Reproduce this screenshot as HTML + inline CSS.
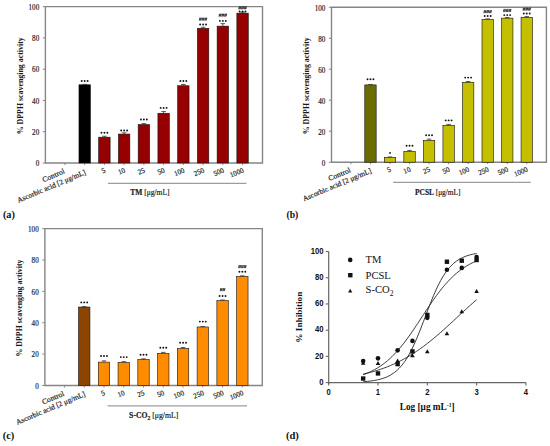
<!DOCTYPE html>
<html><head><meta charset="utf-8"><style>
html,body{margin:0;padding:0;background:#fff;}
svg{display:block;}
.t{stroke:#222;stroke-width:0.18px;paint-order:stroke;}
</style></head><body>
<svg width="550" height="446" viewBox="0 0 550 446">
<rect width="550" height="446" fill="#fff"/>
<path d="M45.4,6.6 H262.5 V163.0 H45.4 Z" fill="none" stroke="#858585" stroke-width="1.4"/>
<line x1="42.8" y1="163.00" x2="45.4" y2="163.00" stroke="#858585" stroke-width="1"/>
<text x="39.199999999999996" y="166.30" text-anchor="end" font-family='"Liberation Serif", serif' font-size="7.6" fill="#222" class="t" textLength="3.55" lengthAdjust="spacingAndGlyphs">0</text>
<line x1="42.8" y1="131.72" x2="45.4" y2="131.72" stroke="#858585" stroke-width="1"/>
<text x="39.199999999999996" y="135.02" text-anchor="end" font-family='"Liberation Serif", serif' font-size="7.6" fill="#222" class="t" textLength="7.10" lengthAdjust="spacingAndGlyphs">20</text>
<line x1="42.8" y1="100.44" x2="45.4" y2="100.44" stroke="#858585" stroke-width="1"/>
<text x="39.199999999999996" y="103.74" text-anchor="end" font-family='"Liberation Serif", serif' font-size="7.6" fill="#222" class="t" textLength="7.10" lengthAdjust="spacingAndGlyphs">40</text>
<line x1="42.8" y1="69.16" x2="45.4" y2="69.16" stroke="#858585" stroke-width="1"/>
<text x="39.199999999999996" y="72.46" text-anchor="end" font-family='"Liberation Serif", serif' font-size="7.6" fill="#222" class="t" textLength="7.10" lengthAdjust="spacingAndGlyphs">60</text>
<line x1="42.8" y1="37.88" x2="45.4" y2="37.88" stroke="#858585" stroke-width="1"/>
<text x="39.199999999999996" y="41.18" text-anchor="end" font-family='"Liberation Serif", serif' font-size="7.6" fill="#222" class="t" textLength="7.10" lengthAdjust="spacingAndGlyphs">80</text>
<line x1="42.8" y1="6.60" x2="45.4" y2="6.60" stroke="#858585" stroke-width="1"/>
<text x="39.199999999999996" y="9.90" text-anchor="end" font-family='"Liberation Serif", serif' font-size="7.6" fill="#222" class="t" textLength="10.65" lengthAdjust="spacingAndGlyphs">100</text>
<text transform="translate(22.799999999999997,85.80) rotate(-90)" text-anchor="middle" font-family='"Liberation Serif", serif' font-weight="bold" font-size="7.7" fill="#1a1a1a" textLength="97" lengthAdjust="spacingAndGlyphs">% DPPH scavenging activity</text>
<line x1="64.94" y1="163.0" x2="64.94" y2="165.0" stroke="#858585" stroke-width="1"/>
<line x1="84.67" y1="163.0" x2="84.67" y2="165.0" stroke="#858585" stroke-width="1"/>
<line x1="104.41" y1="163.0" x2="104.41" y2="165.0" stroke="#858585" stroke-width="1"/>
<line x1="124.15" y1="163.0" x2="124.15" y2="165.0" stroke="#858585" stroke-width="1"/>
<line x1="143.88" y1="163.0" x2="143.88" y2="165.0" stroke="#858585" stroke-width="1"/>
<line x1="163.62" y1="163.0" x2="163.62" y2="165.0" stroke="#858585" stroke-width="1"/>
<line x1="183.35" y1="163.0" x2="183.35" y2="165.0" stroke="#858585" stroke-width="1"/>
<line x1="203.09" y1="163.0" x2="203.09" y2="165.0" stroke="#858585" stroke-width="1"/>
<line x1="222.83" y1="163.0" x2="222.83" y2="165.0" stroke="#858585" stroke-width="1"/>
<line x1="242.56" y1="163.0" x2="242.56" y2="165.0" stroke="#858585" stroke-width="1"/>
<rect x="78.97" y="84.80" width="11.4" height="78.20" fill="#000" stroke="#111" stroke-width="0.6"/>
<path d="M84.67,84.80 V84.33 M82.37,84.33 H86.97" stroke="#333" stroke-width="0.8" fill="none"/>
<rect x="98.71" y="137.19" width="11.4" height="25.81" fill="#960000" stroke="#111" stroke-width="0.6"/>
<path d="M104.41,137.19 V136.26 M102.11,136.26 H106.71" stroke="#333" stroke-width="0.8" fill="none"/>
<rect x="118.45" y="134.07" width="11.4" height="28.93" fill="#960000" stroke="#111" stroke-width="0.6"/>
<path d="M124.15,134.07 V132.81 M121.85,132.81 H126.45" stroke="#333" stroke-width="0.8" fill="none"/>
<rect x="138.18" y="124.53" width="11.4" height="38.47" fill="#960000" stroke="#111" stroke-width="0.6"/>
<path d="M143.88,124.53 V123.59 M141.58,123.59 H146.18" stroke="#333" stroke-width="0.8" fill="none"/>
<rect x="157.92" y="113.26" width="11.4" height="49.74" fill="#960000" stroke="#111" stroke-width="0.6"/>
<path d="M163.62,113.26 V111.54 M161.32,111.54 H165.92" stroke="#333" stroke-width="0.8" fill="none"/>
<rect x="177.65" y="85.74" width="11.4" height="77.26" fill="#960000" stroke="#111" stroke-width="0.6"/>
<path d="M183.35,85.74 V84.49 M181.05,84.49 H185.65" stroke="#333" stroke-width="0.8" fill="none"/>
<rect x="197.39" y="28.34" width="11.4" height="134.66" fill="#960000" stroke="#111" stroke-width="0.6"/>
<path d="M203.09,28.34 V27.24 M200.79,27.24 H205.39" stroke="#333" stroke-width="0.8" fill="none"/>
<rect x="217.13" y="26.15" width="11.4" height="136.85" fill="#960000" stroke="#111" stroke-width="0.6"/>
<path d="M222.83,26.15 V23.65 M220.53,23.65 H225.13" stroke="#333" stroke-width="0.8" fill="none"/>
<rect x="236.86" y="13.17" width="11.4" height="149.83" fill="#960000" stroke="#111" stroke-width="0.6"/>
<path d="M242.56,13.17 V12.23 M240.26,12.23 H244.86" stroke="#333" stroke-width="0.8" fill="none"/>
<circle cx="81.72" cy="81.05" r="0.95" fill="#111"/><circle cx="84.67" cy="81.05" r="0.95" fill="#111"/><circle cx="87.62" cy="81.05" r="0.95" fill="#111"/>
<circle cx="101.46" cy="132.70" r="0.95" fill="#111"/><circle cx="104.41" cy="132.70" r="0.95" fill="#111"/><circle cx="107.36" cy="132.70" r="0.95" fill="#111"/>
<circle cx="121.20" cy="130.50" r="0.95" fill="#111"/><circle cx="124.15" cy="130.50" r="0.95" fill="#111"/><circle cx="127.10" cy="130.50" r="0.95" fill="#111"/>
<circle cx="140.93" cy="119.50" r="0.95" fill="#111"/><circle cx="143.88" cy="119.50" r="0.95" fill="#111"/><circle cx="146.83" cy="119.50" r="0.95" fill="#111"/>
<circle cx="160.67" cy="107.90" r="0.95" fill="#111"/><circle cx="163.62" cy="107.90" r="0.95" fill="#111"/><circle cx="166.57" cy="107.90" r="0.95" fill="#111"/>
<circle cx="180.40" cy="81.00" r="0.95" fill="#111"/><circle cx="183.35" cy="81.00" r="0.95" fill="#111"/><circle cx="186.30" cy="81.00" r="0.95" fill="#111"/>
<circle cx="200.14" cy="24.50" r="0.95" fill="#111"/><circle cx="203.09" cy="24.50" r="0.95" fill="#111"/><circle cx="206.04" cy="24.50" r="0.95" fill="#111"/>
<path d="M200.19,17.50 L199.29,20.70 M201.39,17.50 L200.49,20.70 M199.09,18.50 H201.59 M199.09,19.70 H201.59 M202.94,17.50 L202.04,20.70 M204.14,17.50 L203.24,20.70 M201.84,18.50 H204.34 M201.84,19.70 H204.34 M205.69,17.50 L204.79,20.70 M206.89,17.50 L205.99,20.70 M204.59,18.50 H207.09 M204.59,19.70 H207.09 " stroke="#222" stroke-width="0.7" fill="none"/>
<circle cx="219.88" cy="20.90" r="0.95" fill="#111"/><circle cx="222.83" cy="20.90" r="0.95" fill="#111"/><circle cx="225.78" cy="20.90" r="0.95" fill="#111"/>
<path d="M219.93,13.50 L219.03,16.70 M221.13,13.50 L220.23,16.70 M218.83,14.50 H221.33 M218.83,15.70 H221.33 M222.68,13.50 L221.78,16.70 M223.88,13.50 L222.98,16.70 M221.58,14.50 H224.08 M221.58,15.70 H224.08 M225.43,13.50 L224.53,16.70 M226.63,13.50 L225.73,16.70 M224.33,14.50 H226.83 M224.33,15.70 H226.83 " stroke="#222" stroke-width="0.7" fill="none"/>
<circle cx="239.61" cy="11.50" r="0.95" fill="#111"/><circle cx="242.56" cy="11.50" r="0.95" fill="#111"/><circle cx="245.51" cy="11.50" r="0.95" fill="#111"/>
<path d="M239.66,6.20 L238.76,9.40 M240.86,6.20 L239.96,9.40 M238.56,7.20 H241.06 M238.56,8.40 H241.06 M242.41,6.20 L241.51,9.40 M243.61,6.20 L242.71,9.40 M241.31,7.20 H243.81 M241.31,8.40 H243.81 M245.16,6.20 L244.26,9.40 M246.36,6.20 L245.46,9.40 M244.06,7.20 H246.56 M244.06,8.40 H246.56 " stroke="#222" stroke-width="0.7" fill="none"/>
<text transform="translate(65.24,173.00) rotate(-23)" text-anchor="end" font-family='"Liberation Serif", serif' font-size="7.3" fill="#222" class="t" textLength="23.5" lengthAdjust="spacingAndGlyphs">Control</text>
<text transform="translate(86.27,174.00) rotate(-23)" text-anchor="end" font-family='"Liberation Serif", serif' font-size="7.3" fill="#222" class="t" textLength="73.5" lengthAdjust="spacingAndGlyphs">Ascorbic acid [2 μg/mL]</text>
<text transform="translate(106.01,172.00) rotate(-23)" text-anchor="end" font-family='"Liberation Serif", serif' font-size="7.3" fill="#222" class="t" textLength="3.55" lengthAdjust="spacingAndGlyphs">5</text>
<text transform="translate(125.75,172.00) rotate(-23)" text-anchor="end" font-family='"Liberation Serif", serif' font-size="7.3" fill="#222" class="t" textLength="7.10" lengthAdjust="spacingAndGlyphs">10</text>
<text transform="translate(145.48,172.00) rotate(-23)" text-anchor="end" font-family='"Liberation Serif", serif' font-size="7.3" fill="#222" class="t" textLength="7.10" lengthAdjust="spacingAndGlyphs">25</text>
<text transform="translate(165.22,172.00) rotate(-23)" text-anchor="end" font-family='"Liberation Serif", serif' font-size="7.3" fill="#222" class="t" textLength="7.10" lengthAdjust="spacingAndGlyphs">50</text>
<text transform="translate(184.95,172.00) rotate(-23)" text-anchor="end" font-family='"Liberation Serif", serif' font-size="7.3" fill="#222" class="t" textLength="10.65" lengthAdjust="spacingAndGlyphs">100</text>
<text transform="translate(204.69,172.00) rotate(-23)" text-anchor="end" font-family='"Liberation Serif", serif' font-size="7.3" fill="#222" class="t" textLength="10.65" lengthAdjust="spacingAndGlyphs">250</text>
<text transform="translate(224.43,172.00) rotate(-23)" text-anchor="end" font-family='"Liberation Serif", serif' font-size="7.3" fill="#222" class="t" textLength="10.65" lengthAdjust="spacingAndGlyphs">500</text>
<text transform="translate(244.16,172.00) rotate(-23)" text-anchor="end" font-family='"Liberation Serif", serif' font-size="7.3" fill="#222" class="t" textLength="14.20" lengthAdjust="spacingAndGlyphs">1000</text>
<line x1="108" y1="183.3" x2="246.5" y2="183.3" stroke="#858585" stroke-width="1"/>
<text x="130.2" y="195.4" font-family='"Liberation Serif", serif' font-size="7.5" fill="#1a1a1a" class="t" textLength="39.3" lengthAdjust="spacingAndGlyphs"><tspan font-weight="bold">TM</tspan> [μg/mL]</text>
<text x="2.9" y="217.5" font-family='"Liberation Serif", serif' font-weight="bold" font-size="11.2" fill="#111" textLength="12" lengthAdjust="spacingAndGlyphs">(a)</text>
<path d="M331.5,7.3 H546.4 V162.2 H331.5 Z" fill="none" stroke="#858585" stroke-width="1.4"/>
<line x1="328.9" y1="162.20" x2="331.5" y2="162.20" stroke="#858585" stroke-width="1"/>
<text x="325.3" y="165.50" text-anchor="end" font-family='"Liberation Serif", serif' font-size="7.6" fill="#222" class="t" textLength="3.55" lengthAdjust="spacingAndGlyphs">0</text>
<line x1="328.9" y1="131.22" x2="331.5" y2="131.22" stroke="#858585" stroke-width="1"/>
<text x="325.3" y="134.52" text-anchor="end" font-family='"Liberation Serif", serif' font-size="7.6" fill="#222" class="t" textLength="7.10" lengthAdjust="spacingAndGlyphs">20</text>
<line x1="328.9" y1="100.24" x2="331.5" y2="100.24" stroke="#858585" stroke-width="1"/>
<text x="325.3" y="103.54" text-anchor="end" font-family='"Liberation Serif", serif' font-size="7.6" fill="#222" class="t" textLength="7.10" lengthAdjust="spacingAndGlyphs">40</text>
<line x1="328.9" y1="69.26" x2="331.5" y2="69.26" stroke="#858585" stroke-width="1"/>
<text x="325.3" y="72.56" text-anchor="end" font-family='"Liberation Serif", serif' font-size="7.6" fill="#222" class="t" textLength="7.10" lengthAdjust="spacingAndGlyphs">60</text>
<line x1="328.9" y1="38.28" x2="331.5" y2="38.28" stroke="#858585" stroke-width="1"/>
<text x="325.3" y="41.58" text-anchor="end" font-family='"Liberation Serif", serif' font-size="7.6" fill="#222" class="t" textLength="7.10" lengthAdjust="spacingAndGlyphs">80</text>
<line x1="328.9" y1="7.30" x2="331.5" y2="7.30" stroke="#858585" stroke-width="1"/>
<text x="325.3" y="10.60" text-anchor="end" font-family='"Liberation Serif", serif' font-size="7.6" fill="#222" class="t" textLength="10.65" lengthAdjust="spacingAndGlyphs">100</text>
<text transform="translate(308.9,85.75) rotate(-90)" text-anchor="middle" font-family='"Liberation Serif", serif' font-weight="bold" font-size="7.7" fill="#1a1a1a" textLength="97" lengthAdjust="spacingAndGlyphs">% DPPH scavenging activity</text>
<line x1="350.94" y1="162.2" x2="350.94" y2="164.2" stroke="#858585" stroke-width="1"/>
<line x1="370.47" y1="162.2" x2="370.47" y2="164.2" stroke="#858585" stroke-width="1"/>
<line x1="390.01" y1="162.2" x2="390.01" y2="164.2" stroke="#858585" stroke-width="1"/>
<line x1="409.55" y1="162.2" x2="409.55" y2="164.2" stroke="#858585" stroke-width="1"/>
<line x1="429.08" y1="162.2" x2="429.08" y2="164.2" stroke="#858585" stroke-width="1"/>
<line x1="448.62" y1="162.2" x2="448.62" y2="164.2" stroke="#858585" stroke-width="1"/>
<line x1="468.15" y1="162.2" x2="468.15" y2="164.2" stroke="#858585" stroke-width="1"/>
<line x1="487.69" y1="162.2" x2="487.69" y2="164.2" stroke="#858585" stroke-width="1"/>
<line x1="507.23" y1="162.2" x2="507.23" y2="164.2" stroke="#858585" stroke-width="1"/>
<line x1="526.76" y1="162.2" x2="526.76" y2="164.2" stroke="#858585" stroke-width="1"/>
<rect x="364.77" y="84.90" width="11.4" height="77.30" fill="#6b6c00" stroke="#111" stroke-width="0.6"/>
<path d="M370.47,84.90 V84.44 M368.17,84.44 H372.77" stroke="#333" stroke-width="0.8" fill="none"/>
<rect x="384.31" y="157.40" width="11.4" height="4.80" fill="#c4c000" stroke="#111" stroke-width="0.6"/>
<path d="M390.01,157.40 V156.93 M387.71,156.93 H392.31" stroke="#333" stroke-width="0.8" fill="none"/>
<rect x="403.85" y="151.36" width="11.4" height="10.84" fill="#c4c000" stroke="#111" stroke-width="0.6"/>
<path d="M409.55,151.36 V150.43 M407.25,150.43 H411.85" stroke="#333" stroke-width="0.8" fill="none"/>
<rect x="423.38" y="140.36" width="11.4" height="21.84" fill="#c4c000" stroke="#111" stroke-width="0.6"/>
<path d="M429.08,140.36 V139.12 M426.78,139.12 H431.38" stroke="#333" stroke-width="0.8" fill="none"/>
<rect x="442.92" y="125.33" width="11.4" height="36.87" fill="#c4c000" stroke="#111" stroke-width="0.6"/>
<path d="M448.62,125.33 V124.40 M446.32,124.40 H450.92" stroke="#333" stroke-width="0.8" fill="none"/>
<rect x="462.45" y="82.27" width="11.4" height="79.93" fill="#c4c000" stroke="#111" stroke-width="0.6"/>
<path d="M468.15,82.27 V81.50 M465.85,81.50 H470.45" stroke="#333" stroke-width="0.8" fill="none"/>
<rect x="481.99" y="19.38" width="11.4" height="142.82" fill="#c4c000" stroke="#111" stroke-width="0.6"/>
<path d="M487.69,19.38 V18.92 M485.39,18.92 H489.99" stroke="#333" stroke-width="0.8" fill="none"/>
<rect x="501.53" y="18.14" width="11.4" height="144.06" fill="#c4c000" stroke="#111" stroke-width="0.6"/>
<path d="M507.23,18.14 V17.52 M504.93,17.52 H509.53" stroke="#333" stroke-width="0.8" fill="none"/>
<rect x="521.06" y="17.37" width="11.4" height="144.83" fill="#c4c000" stroke="#111" stroke-width="0.6"/>
<path d="M526.76,17.37 V16.59 M524.46,16.59 H529.06" stroke="#333" stroke-width="0.8" fill="none"/>
<circle cx="367.52" cy="79.30" r="0.95" fill="#111"/><circle cx="370.47" cy="79.30" r="0.95" fill="#111"/><circle cx="373.42" cy="79.30" r="0.95" fill="#111"/>
<circle cx="390.01" cy="152.90" r="0.95" fill="#111"/>
<circle cx="406.60" cy="145.80" r="0.95" fill="#111"/><circle cx="409.55" cy="145.80" r="0.95" fill="#111"/><circle cx="412.50" cy="145.80" r="0.95" fill="#111"/>
<circle cx="426.13" cy="135.30" r="0.95" fill="#111"/><circle cx="429.08" cy="135.30" r="0.95" fill="#111"/><circle cx="432.03" cy="135.30" r="0.95" fill="#111"/>
<circle cx="445.67" cy="120.40" r="0.95" fill="#111"/><circle cx="448.62" cy="120.40" r="0.95" fill="#111"/><circle cx="451.57" cy="120.40" r="0.95" fill="#111"/>
<circle cx="465.20" cy="77.60" r="0.95" fill="#111"/><circle cx="468.15" cy="77.60" r="0.95" fill="#111"/><circle cx="471.10" cy="77.60" r="0.95" fill="#111"/>
<circle cx="484.74" cy="16.00" r="0.95" fill="#111"/><circle cx="487.69" cy="16.00" r="0.95" fill="#111"/><circle cx="490.64" cy="16.00" r="0.95" fill="#111"/>
<path d="M484.79,10.00 L483.89,13.20 M485.99,10.00 L485.09,13.20 M483.69,11.00 H486.19 M483.69,12.20 H486.19 M487.54,10.00 L486.64,13.20 M488.74,10.00 L487.84,13.20 M486.44,11.00 H488.94 M486.44,12.20 H488.94 M490.29,10.00 L489.39,13.20 M491.49,10.00 L490.59,13.20 M489.19,11.00 H491.69 M489.19,12.20 H491.69 " stroke="#222" stroke-width="0.7" fill="none"/>
<circle cx="504.28" cy="15.10" r="0.95" fill="#111"/><circle cx="507.23" cy="15.10" r="0.95" fill="#111"/><circle cx="510.18" cy="15.10" r="0.95" fill="#111"/>
<path d="M504.33,8.90 L503.43,12.10 M505.53,8.90 L504.63,12.10 M503.23,9.90 H505.73 M503.23,11.10 H505.73 M507.08,8.90 L506.18,12.10 M508.28,8.90 L507.38,12.10 M505.98,9.90 H508.48 M505.98,11.10 H508.48 M509.83,8.90 L508.93,12.10 M511.03,8.90 L510.13,12.10 M508.73,9.90 H511.23 M508.73,11.10 H511.23 " stroke="#222" stroke-width="0.7" fill="none"/>
<circle cx="523.81" cy="13.50" r="0.95" fill="#111"/><circle cx="526.76" cy="13.50" r="0.95" fill="#111"/><circle cx="529.71" cy="13.50" r="0.95" fill="#111"/>
<path d="M523.86,7.50 L522.96,10.70 M525.06,7.50 L524.16,10.70 M522.76,8.50 H525.26 M522.76,9.70 H525.26 M526.61,7.50 L525.71,10.70 M527.81,7.50 L526.91,10.70 M525.51,8.50 H528.01 M525.51,9.70 H528.01 M529.36,7.50 L528.46,10.70 M530.56,7.50 L529.66,10.70 M528.26,8.50 H530.76 M528.26,9.70 H530.76 " stroke="#222" stroke-width="0.7" fill="none"/>
<text transform="translate(351.24,171.80) rotate(-23)" text-anchor="end" font-family='"Liberation Serif", serif' font-size="7.3" fill="#222" class="t" textLength="23.5" lengthAdjust="spacingAndGlyphs">Control</text>
<text transform="translate(372.07,172.40) rotate(-23)" text-anchor="end" font-family='"Liberation Serif", serif' font-size="7.3" fill="#222" class="t" textLength="74" lengthAdjust="spacingAndGlyphs">Ascorbic acid [2 μg/mL]</text>
<text transform="translate(391.61,171.20) rotate(-23)" text-anchor="end" font-family='"Liberation Serif", serif' font-size="7.3" fill="#222" class="t" textLength="3.55" lengthAdjust="spacingAndGlyphs">5</text>
<text transform="translate(411.15,171.20) rotate(-23)" text-anchor="end" font-family='"Liberation Serif", serif' font-size="7.3" fill="#222" class="t" textLength="7.10" lengthAdjust="spacingAndGlyphs">10</text>
<text transform="translate(430.68,171.20) rotate(-23)" text-anchor="end" font-family='"Liberation Serif", serif' font-size="7.3" fill="#222" class="t" textLength="7.10" lengthAdjust="spacingAndGlyphs">25</text>
<text transform="translate(450.22,171.20) rotate(-23)" text-anchor="end" font-family='"Liberation Serif", serif' font-size="7.3" fill="#222" class="t" textLength="7.10" lengthAdjust="spacingAndGlyphs">50</text>
<text transform="translate(469.75,171.20) rotate(-23)" text-anchor="end" font-family='"Liberation Serif", serif' font-size="7.3" fill="#222" class="t" textLength="10.65" lengthAdjust="spacingAndGlyphs">100</text>
<text transform="translate(489.29,171.20) rotate(-23)" text-anchor="end" font-family='"Liberation Serif", serif' font-size="7.3" fill="#222" class="t" textLength="10.65" lengthAdjust="spacingAndGlyphs">250</text>
<text transform="translate(508.83,171.20) rotate(-23)" text-anchor="end" font-family='"Liberation Serif", serif' font-size="7.3" fill="#222" class="t" textLength="10.65" lengthAdjust="spacingAndGlyphs">500</text>
<text transform="translate(528.36,171.20) rotate(-23)" text-anchor="end" font-family='"Liberation Serif", serif' font-size="7.3" fill="#222" class="t" textLength="14.20" lengthAdjust="spacingAndGlyphs">1000</text>
<line x1="393.1" y1="182.3" x2="530.8" y2="182.3" stroke="#858585" stroke-width="1"/>
<text x="415.1" y="194.5" font-family='"Liberation Serif", serif' font-size="7.5" fill="#1a1a1a" class="t" textLength="45.4" lengthAdjust="spacingAndGlyphs"><tspan font-weight="bold">PCSL</tspan> [μg/mL]</text>
<text x="286.4" y="217.8" font-family='"Liberation Serif", serif' font-weight="bold" font-size="11.2" fill="#111" textLength="11.9" lengthAdjust="spacingAndGlyphs">(b)</text>
<path d="M44.9,228.6 H262.3 V385.5 H44.9 Z" fill="none" stroke="#858585" stroke-width="1.4"/>
<line x1="42.3" y1="385.50" x2="44.9" y2="385.50" stroke="#858585" stroke-width="1"/>
<text x="38.699999999999996" y="388.80" text-anchor="end" font-family='"Liberation Serif", serif' font-size="7.6" fill="#222" class="t" textLength="3.55" lengthAdjust="spacingAndGlyphs">0</text>
<line x1="42.3" y1="354.12" x2="44.9" y2="354.12" stroke="#858585" stroke-width="1"/>
<text x="38.699999999999996" y="357.42" text-anchor="end" font-family='"Liberation Serif", serif' font-size="7.6" fill="#222" class="t" textLength="7.10" lengthAdjust="spacingAndGlyphs">20</text>
<line x1="42.3" y1="322.74" x2="44.9" y2="322.74" stroke="#858585" stroke-width="1"/>
<text x="38.699999999999996" y="326.04" text-anchor="end" font-family='"Liberation Serif", serif' font-size="7.6" fill="#222" class="t" textLength="7.10" lengthAdjust="spacingAndGlyphs">40</text>
<line x1="42.3" y1="291.36" x2="44.9" y2="291.36" stroke="#858585" stroke-width="1"/>
<text x="38.699999999999996" y="294.66" text-anchor="end" font-family='"Liberation Serif", serif' font-size="7.6" fill="#222" class="t" textLength="7.10" lengthAdjust="spacingAndGlyphs">60</text>
<line x1="42.3" y1="259.98" x2="44.9" y2="259.98" stroke="#858585" stroke-width="1"/>
<text x="38.699999999999996" y="263.28" text-anchor="end" font-family='"Liberation Serif", serif' font-size="7.6" fill="#222" class="t" textLength="7.10" lengthAdjust="spacingAndGlyphs">80</text>
<line x1="42.3" y1="228.60" x2="44.9" y2="228.60" stroke="#858585" stroke-width="1"/>
<text x="38.699999999999996" y="231.90" text-anchor="end" font-family='"Liberation Serif", serif' font-size="7.6" fill="#222" class="t" textLength="10.65" lengthAdjust="spacingAndGlyphs">100</text>
<text transform="translate(22.299999999999997,308.05) rotate(-90)" text-anchor="middle" font-family='"Liberation Serif", serif' font-weight="bold" font-size="7.7" fill="#1a1a1a" textLength="97" lengthAdjust="spacingAndGlyphs">% DPPH scavenging activity</text>
<line x1="64.46" y1="385.5" x2="64.46" y2="387.5" stroke="#858585" stroke-width="1"/>
<line x1="84.23" y1="385.5" x2="84.23" y2="387.5" stroke="#858585" stroke-width="1"/>
<line x1="103.99" y1="385.5" x2="103.99" y2="387.5" stroke="#858585" stroke-width="1"/>
<line x1="123.75" y1="385.5" x2="123.75" y2="387.5" stroke="#858585" stroke-width="1"/>
<line x1="143.52" y1="385.5" x2="143.52" y2="387.5" stroke="#858585" stroke-width="1"/>
<line x1="163.28" y1="385.5" x2="163.28" y2="387.5" stroke="#858585" stroke-width="1"/>
<line x1="183.05" y1="385.5" x2="183.05" y2="387.5" stroke="#858585" stroke-width="1"/>
<line x1="202.81" y1="385.5" x2="202.81" y2="387.5" stroke="#858585" stroke-width="1"/>
<line x1="222.57" y1="385.5" x2="222.57" y2="387.5" stroke="#858585" stroke-width="1"/>
<line x1="242.34" y1="385.5" x2="242.34" y2="387.5" stroke="#858585" stroke-width="1"/>
<rect x="78.53" y="307.05" width="11.4" height="78.45" fill="#8b4500" stroke="#111" stroke-width="0.6"/>
<path d="M84.23,307.05 V306.58 M81.93,306.58 H86.53" stroke="#333" stroke-width="0.8" fill="none"/>
<rect x="98.29" y="362.12" width="11.4" height="23.38" fill="#ff8c00" stroke="#111" stroke-width="0.6"/>
<path d="M103.99,362.12 V360.87 M101.69,360.87 H106.29" stroke="#333" stroke-width="0.8" fill="none"/>
<rect x="118.05" y="362.44" width="11.4" height="23.06" fill="#ff8c00" stroke="#111" stroke-width="0.6"/>
<path d="M123.75,362.44 V361.65 M121.45,361.65 H126.05" stroke="#333" stroke-width="0.8" fill="none"/>
<rect x="137.82" y="359.45" width="11.4" height="26.05" fill="#ff8c00" stroke="#111" stroke-width="0.6"/>
<path d="M143.52,359.45 V358.83 M141.22,358.83 H145.82" stroke="#333" stroke-width="0.8" fill="none"/>
<rect x="157.58" y="353.34" width="11.4" height="32.16" fill="#ff8c00" stroke="#111" stroke-width="0.6"/>
<path d="M163.28,353.34 V352.39 M160.98,352.39 H165.58" stroke="#333" stroke-width="0.8" fill="none"/>
<rect x="177.35" y="348.47" width="11.4" height="37.03" fill="#ff8c00" stroke="#111" stroke-width="0.6"/>
<path d="M183.05,348.47 V347.53 M180.75,347.53 H185.35" stroke="#333" stroke-width="0.8" fill="none"/>
<rect x="197.11" y="326.98" width="11.4" height="58.52" fill="#ff8c00" stroke="#111" stroke-width="0.6"/>
<path d="M202.81,326.98 V326.51 M200.51,326.51 H205.11" stroke="#333" stroke-width="0.8" fill="none"/>
<rect x="216.87" y="300.62" width="11.4" height="84.88" fill="#ff8c00" stroke="#111" stroke-width="0.6"/>
<path d="M222.57,300.62 V299.99 M220.27,299.99 H224.87" stroke="#333" stroke-width="0.8" fill="none"/>
<rect x="236.64" y="276.45" width="11.4" height="109.05" fill="#ff8c00" stroke="#111" stroke-width="0.6"/>
<path d="M242.34,276.45 V275.83 M240.04,275.83 H244.64" stroke="#333" stroke-width="0.8" fill="none"/>
<circle cx="81.28" cy="302.40" r="0.95" fill="#111"/><circle cx="84.23" cy="302.40" r="0.95" fill="#111"/><circle cx="87.18" cy="302.40" r="0.95" fill="#111"/>
<circle cx="101.04" cy="356.00" r="0.95" fill="#111"/><circle cx="103.99" cy="356.00" r="0.95" fill="#111"/><circle cx="106.94" cy="356.00" r="0.95" fill="#111"/>
<circle cx="120.80" cy="357.10" r="0.95" fill="#111"/><circle cx="123.75" cy="357.10" r="0.95" fill="#111"/><circle cx="126.70" cy="357.10" r="0.95" fill="#111"/>
<circle cx="140.57" cy="354.80" r="0.95" fill="#111"/><circle cx="143.52" cy="354.80" r="0.95" fill="#111"/><circle cx="146.47" cy="354.80" r="0.95" fill="#111"/>
<circle cx="160.33" cy="347.70" r="0.95" fill="#111"/><circle cx="163.28" cy="347.70" r="0.95" fill="#111"/><circle cx="166.23" cy="347.70" r="0.95" fill="#111"/>
<circle cx="180.10" cy="342.70" r="0.95" fill="#111"/><circle cx="183.05" cy="342.70" r="0.95" fill="#111"/><circle cx="186.00" cy="342.70" r="0.95" fill="#111"/>
<circle cx="199.86" cy="321.60" r="0.95" fill="#111"/><circle cx="202.81" cy="321.60" r="0.95" fill="#111"/><circle cx="205.76" cy="321.60" r="0.95" fill="#111"/>
<circle cx="219.62" cy="296.00" r="0.95" fill="#111"/><circle cx="222.57" cy="296.00" r="0.95" fill="#111"/><circle cx="225.52" cy="296.00" r="0.95" fill="#111"/>
<path d="M221.05,288.00 L220.15,291.20 M222.25,288.00 L221.35,291.20 M219.95,289.00 H222.45 M219.95,290.20 H222.45 M223.80,288.00 L222.90,291.20 M225.00,288.00 L224.10,291.20 M222.70,289.00 H225.20 M222.70,290.20 H225.20 " stroke="#222" stroke-width="0.7" fill="none"/>
<circle cx="239.39" cy="271.80" r="0.95" fill="#111"/><circle cx="242.34" cy="271.80" r="0.95" fill="#111"/><circle cx="245.29" cy="271.80" r="0.95" fill="#111"/>
<path d="M239.44,265.00 L238.54,268.20 M240.64,265.00 L239.74,268.20 M238.34,266.00 H240.84 M238.34,267.20 H240.84 M242.19,265.00 L241.29,268.20 M243.39,265.00 L242.49,268.20 M241.09,266.00 H243.59 M241.09,267.20 H243.59 M244.94,265.00 L244.04,268.20 M246.14,265.00 L245.24,268.20 M243.84,266.00 H246.34 M243.84,267.20 H246.34 " stroke="#222" stroke-width="0.7" fill="none"/>
<text transform="translate(64.76,395.40) rotate(-23)" text-anchor="end" font-family='"Liberation Serif", serif' font-size="7.3" fill="#222" class="t" textLength="23.5" lengthAdjust="spacingAndGlyphs">Control</text>
<text transform="translate(85.83,395.70) rotate(-23)" text-anchor="end" font-family='"Liberation Serif", serif' font-size="7.3" fill="#222" class="t" textLength="74.5" lengthAdjust="spacingAndGlyphs">Ascorbic acid [2 μg/mL]</text>
<text transform="translate(105.59,394.50) rotate(-23)" text-anchor="end" font-family='"Liberation Serif", serif' font-size="7.3" fill="#222" class="t" textLength="3.55" lengthAdjust="spacingAndGlyphs">5</text>
<text transform="translate(125.35,394.50) rotate(-23)" text-anchor="end" font-family='"Liberation Serif", serif' font-size="7.3" fill="#222" class="t" textLength="7.10" lengthAdjust="spacingAndGlyphs">10</text>
<text transform="translate(145.12,394.50) rotate(-23)" text-anchor="end" font-family='"Liberation Serif", serif' font-size="7.3" fill="#222" class="t" textLength="7.10" lengthAdjust="spacingAndGlyphs">25</text>
<text transform="translate(164.88,394.50) rotate(-23)" text-anchor="end" font-family='"Liberation Serif", serif' font-size="7.3" fill="#222" class="t" textLength="7.10" lengthAdjust="spacingAndGlyphs">50</text>
<text transform="translate(184.65,394.50) rotate(-23)" text-anchor="end" font-family='"Liberation Serif", serif' font-size="7.3" fill="#222" class="t" textLength="10.65" lengthAdjust="spacingAndGlyphs">100</text>
<text transform="translate(204.41,394.50) rotate(-23)" text-anchor="end" font-family='"Liberation Serif", serif' font-size="7.3" fill="#222" class="t" textLength="10.65" lengthAdjust="spacingAndGlyphs">250</text>
<text transform="translate(224.17,394.50) rotate(-23)" text-anchor="end" font-family='"Liberation Serif", serif' font-size="7.3" fill="#222" class="t" textLength="10.65" lengthAdjust="spacingAndGlyphs">500</text>
<text transform="translate(243.94,394.50) rotate(-23)" text-anchor="end" font-family='"Liberation Serif", serif' font-size="7.3" fill="#222" class="t" textLength="14.20" lengthAdjust="spacingAndGlyphs">1000</text>
<line x1="107.6" y1="405.9" x2="247.0" y2="405.9" stroke="#858585" stroke-width="1"/>
<text x="129.1" y="418.3" font-family='"Liberation Serif", serif' font-size="7.5" fill="#1a1a1a" class="t" textLength="49.1" lengthAdjust="spacingAndGlyphs"><tspan font-weight="bold">S-CO<tspan font-size="5.5" dy="1.5">2</tspan></tspan><tspan dy="-1.5"> [μg/mL]</tspan></text>
<text x="2.7" y="438.7" font-family='"Liberation Serif", serif' font-weight="bold" font-size="11.2" fill="#111" textLength="11.6" lengthAdjust="spacingAndGlyphs">(c)</text>
<line x1="328.7" y1="251.50" x2="328.7" y2="384.1" stroke="#666" stroke-width="1.2"/>
<line x1="328.7" y1="382.6" x2="525.90" y2="382.6" stroke="#666" stroke-width="1.2"/>
<line x1="325.7" y1="382.60" x2="328.7" y2="382.60" stroke="#666" stroke-width="1.1"/>
<text x="323.5" y="384.90" text-anchor="end" font-family='"Liberation Sans", sans-serif' font-weight="bold" font-size="8.3" fill="#111" textLength="4.27" lengthAdjust="spacingAndGlyphs">0</text>
<line x1="325.7" y1="356.38" x2="328.7" y2="356.38" stroke="#666" stroke-width="1.1"/>
<text x="323.5" y="358.68" text-anchor="end" font-family='"Liberation Sans", sans-serif' font-weight="bold" font-size="8.3" fill="#111" textLength="8.54" lengthAdjust="spacingAndGlyphs">20</text>
<line x1="325.7" y1="330.16" x2="328.7" y2="330.16" stroke="#666" stroke-width="1.1"/>
<text x="323.5" y="332.46" text-anchor="end" font-family='"Liberation Sans", sans-serif' font-weight="bold" font-size="8.3" fill="#111" textLength="8.54" lengthAdjust="spacingAndGlyphs">40</text>
<line x1="325.7" y1="303.94" x2="328.7" y2="303.94" stroke="#666" stroke-width="1.1"/>
<text x="323.5" y="306.24" text-anchor="end" font-family='"Liberation Sans", sans-serif' font-weight="bold" font-size="8.3" fill="#111" textLength="8.54" lengthAdjust="spacingAndGlyphs">60</text>
<line x1="325.7" y1="277.72" x2="328.7" y2="277.72" stroke="#666" stroke-width="1.1"/>
<text x="323.5" y="280.02" text-anchor="end" font-family='"Liberation Sans", sans-serif' font-weight="bold" font-size="8.3" fill="#111" textLength="8.54" lengthAdjust="spacingAndGlyphs">80</text>
<line x1="325.7" y1="251.50" x2="328.7" y2="251.50" stroke="#666" stroke-width="1.1"/>
<text x="323.5" y="253.80" text-anchor="end" font-family='"Liberation Sans", sans-serif' font-weight="bold" font-size="8.3" fill="#111" textLength="12.81" lengthAdjust="spacingAndGlyphs">100</text>
<line x1="328.70" y1="382.6" x2="328.70" y2="385.6" stroke="#666" stroke-width="1.1"/>
<text x="328.70" y="394.90" text-anchor="middle" font-family='"Liberation Sans", sans-serif' font-weight="bold" font-size="8.3" fill="#111" textLength="4.27" lengthAdjust="spacingAndGlyphs">0</text>
<line x1="378.00" y1="382.6" x2="378.00" y2="385.6" stroke="#666" stroke-width="1.1"/>
<text x="378.00" y="394.90" text-anchor="middle" font-family='"Liberation Sans", sans-serif' font-weight="bold" font-size="8.3" fill="#111" textLength="4.27" lengthAdjust="spacingAndGlyphs">1</text>
<line x1="427.30" y1="382.6" x2="427.30" y2="385.6" stroke="#666" stroke-width="1.1"/>
<text x="427.30" y="394.90" text-anchor="middle" font-family='"Liberation Sans", sans-serif' font-weight="bold" font-size="8.3" fill="#111" textLength="4.27" lengthAdjust="spacingAndGlyphs">2</text>
<line x1="476.60" y1="382.6" x2="476.60" y2="385.6" stroke="#666" stroke-width="1.1"/>
<text x="476.60" y="394.90" text-anchor="middle" font-family='"Liberation Sans", sans-serif' font-weight="bold" font-size="8.3" fill="#111" textLength="4.27" lengthAdjust="spacingAndGlyphs">3</text>
<line x1="525.90" y1="382.6" x2="525.90" y2="385.6" stroke="#666" stroke-width="1.1"/>
<text x="525.90" y="394.90" text-anchor="middle" font-family='"Liberation Sans", sans-serif' font-weight="bold" font-size="8.3" fill="#111" textLength="4.27" lengthAdjust="spacingAndGlyphs">4</text>
<text transform="translate(302.1,317.2) rotate(-90)" text-anchor="middle" font-family='"Liberation Serif", serif' font-weight="bold" font-size="9.0" fill="#111" textLength="51" lengthAdjust="spacingAndGlyphs">% Inhibition</text>
<text x="399.7" y="410" font-family='"Liberation Serif", serif' font-weight="bold" font-size="9.3" fill="#111">Log [μg mL<tspan font-size="5.5" dy="-3.5">-1</tspan><tspan dy="3.5">]</tspan></text>
<path d="M363.16,374.66 L364.60,374.14 L366.03,373.60 L367.47,373.02 L368.90,372.41 L370.34,371.76 L371.77,371.07 L373.21,370.35 L374.65,369.58 L376.08,368.78 L377.52,367.93 L378.95,367.03 L380.39,366.09 L381.83,365.10 L383.26,364.05 L384.70,362.96 L386.13,361.81 L387.57,360.62 L389.01,359.36 L390.44,358.05 L391.88,356.69 L393.31,355.27 L394.75,353.79 L396.19,352.25 L397.62,350.66 L399.06,349.01 L400.49,347.31 L401.93,345.56 L403.37,343.75 L404.80,341.89 L406.24,339.99 L407.67,338.04 L409.11,336.05 L410.55,334.02 L411.98,331.95 L413.42,329.85 L414.85,327.72 L416.29,325.58 L417.73,323.41 L419.16,321.22 L420.60,319.03 L422.03,316.84 L423.47,314.64 L424.91,312.45 L426.34,310.27 L427.78,308.11 L429.21,305.96 L430.65,303.84 L432.09,301.75 L433.52,299.69 L434.96,297.66 L436.39,295.68 L437.83,293.74 L439.27,291.84 L440.70,290.00 L442.14,288.20 L443.57,286.45 L445.01,284.76 L446.44,283.13 L447.88,281.55 L449.32,280.02 L450.75,278.55 L452.19,277.14 L453.62,275.79 L455.06,274.49 L456.50,273.25 L457.93,272.06 L459.37,270.92 L460.80,269.84 L462.24,268.81 L463.68,267.83 L465.11,266.89 L466.55,266.00 L467.98,265.16 L469.42,264.36 L470.86,263.61 L472.29,262.89 L473.73,262.21 L475.16,261.57 L476.60,260.97" fill="none" stroke="#222" stroke-width="0.9"/>
<path d="M363.16,381.73 L364.60,381.62 L366.03,381.50 L367.47,381.37 L368.90,381.22 L370.34,381.05 L371.77,380.86 L373.21,380.65 L374.65,380.42 L376.08,380.16 L377.52,379.86 L378.95,379.53 L380.39,379.16 L381.83,378.75 L383.26,378.30 L384.70,377.79 L386.13,377.22 L387.57,376.59 L389.01,375.89 L390.44,375.11 L391.88,374.24 L393.31,373.29 L394.75,372.24 L396.19,371.07 L397.62,369.79 L399.06,368.39 L400.49,366.85 L401.93,365.17 L403.37,363.34 L404.80,361.36 L406.24,359.21 L407.67,356.90 L409.11,354.41 L410.55,351.76 L411.98,348.94 L413.42,345.96 L414.85,342.82 L416.29,339.53 L417.73,336.12 L419.16,332.58 L420.60,328.94 L422.03,325.23 L423.47,321.47 L424.91,317.67 L426.34,313.87 L427.78,310.09 L429.21,306.36 L430.65,302.70 L432.09,299.13 L433.52,295.67 L434.96,292.34 L436.39,289.15 L437.83,286.11 L439.27,283.24 L440.70,280.53 L442.14,278.00 L443.57,275.63 L445.01,273.43 L446.44,271.39 L447.88,269.51 L449.32,267.78 L450.75,266.20 L452.19,264.75 L453.62,263.43 L455.06,262.23 L456.50,261.14 L457.93,260.16 L459.37,259.26 L460.80,258.46 L462.24,257.73 L463.68,257.08 L465.11,256.49 L466.55,255.96 L467.98,255.49 L469.42,255.06 L470.86,254.68 L472.29,254.34 L473.73,254.04 L475.16,253.76 L476.60,253.52" fill="none" stroke="#222" stroke-width="0.9"/>
<path d="M363.16,374.13 L364.60,373.80 L366.03,373.46 L367.47,373.11 L368.90,372.75 L370.34,372.37 L371.77,371.98 L373.21,371.58 L374.65,371.16 L376.08,370.73 L377.52,370.28 L378.95,369.82 L380.39,369.34 L381.83,368.85 L383.26,368.34 L384.70,367.81 L386.13,367.27 L387.57,366.71 L389.01,366.13 L390.44,365.54 L391.88,364.92 L393.31,364.29 L394.75,363.64 L396.19,362.97 L397.62,362.28 L399.06,361.58 L400.49,360.85 L401.93,360.10 L403.37,359.33 L404.80,358.54 L406.24,357.73 L407.67,356.90 L409.11,356.05 L410.55,355.18 L411.98,354.28 L413.42,353.37 L414.85,352.44 L416.29,351.48 L417.73,350.50 L419.16,349.51 L420.60,348.49 L422.03,347.45 L423.47,346.40 L424.91,345.32 L426.34,344.22 L427.78,343.11 L429.21,341.98 L430.65,340.83 L432.09,339.66 L433.52,338.48 L434.96,337.28 L436.39,336.07 L437.83,334.84 L439.27,333.59 L440.70,332.34 L442.14,331.07 L443.57,329.79 L445.01,328.51 L446.44,327.21 L447.88,325.90 L449.32,324.59 L450.75,323.27 L452.19,321.95 L453.62,320.62 L455.06,319.29 L456.50,317.95 L457.93,316.62 L459.37,315.29 L460.80,313.95 L462.24,312.62 L463.68,311.30 L465.11,309.98 L466.55,308.66 L467.98,307.35 L469.42,306.05 L470.86,304.76 L472.29,303.48 L473.73,302.21 L475.16,300.95 L476.60,299.70" fill="none" stroke="#222" stroke-width="0.9"/>
<path d="M363.16,360.66 L365.46,364.67 L360.86,364.67 Z" fill="#111"/>
<path d="M378.00,360.93 L380.30,364.93 L375.70,364.93 Z" fill="#111"/>
<path d="M397.62,358.44 L399.92,362.44 L395.32,362.44 Z" fill="#111"/>
<path d="M412.46,353.32 L414.76,357.33 L410.16,357.33 Z" fill="#111"/>
<path d="M427.30,349.26 L429.60,353.26 L425.00,353.26 Z" fill="#111"/>
<path d="M446.92,331.30 L449.22,335.30 L444.62,335.30 Z" fill="#111"/>
<path d="M461.76,309.27 L464.06,313.28 L459.46,313.28 Z" fill="#111"/>
<path d="M476.60,289.08 L478.90,293.09 L474.30,293.09 Z" fill="#111"/>
<rect x="360.96" y="376.34" width="4.4" height="4.4" fill="#111"/>
<rect x="375.80" y="371.22" width="4.4" height="4.4" fill="#111"/>
<rect x="395.42" y="361.91" width="4.4" height="4.4" fill="#111"/>
<rect x="410.26" y="349.20" width="4.4" height="4.4" fill="#111"/>
<rect x="425.10" y="312.75" width="4.4" height="4.4" fill="#111"/>
<rect x="444.72" y="259.53" width="4.4" height="4.4" fill="#111"/>
<rect x="459.56" y="258.48" width="4.4" height="4.4" fill="#111"/>
<rect x="474.40" y="257.82" width="4.4" height="4.4" fill="#111"/>
<circle cx="363.16" cy="360.97" r="2.3" fill="#111"/>
<circle cx="378.00" cy="358.35" r="2.3" fill="#111"/>
<circle cx="397.62" cy="350.35" r="2.3" fill="#111"/>
<circle cx="412.46" cy="340.91" r="2.3" fill="#111"/>
<circle cx="427.30" cy="317.84" r="2.3" fill="#111"/>
<circle cx="446.92" cy="269.72" r="2.3" fill="#111"/>
<circle cx="461.76" cy="267.89" r="2.3" fill="#111"/>
<circle cx="476.60" cy="257.01" r="2.3" fill="#111"/>
<circle cx="350.20" cy="259.90" r="2.3" fill="#111"/>
<rect x="348.10" y="273.00" width="4.4" height="4.4" fill="#111"/>
<path d="M350.20,288.81 L352.30,292.46 L348.10,292.46 Z" fill="#111"/>
<text x="365.5" y="263.4" font-family='"Liberation Serif", serif' font-size="10.6" fill="#111">TM</text>
<text x="365.5" y="278.6" font-family='"Liberation Serif", serif' font-size="10.6" fill="#111">PCSL</text>
<text x="365.5" y="293.3" font-family='"Liberation Serif", serif' font-size="10.6" fill="#111">S-CO<tspan font-size="7.5" dy="2.5">2</tspan></text>
<text x="285.9" y="439.3" font-family='"Liberation Serif", serif' font-weight="bold" font-size="11.2" fill="#111" textLength="13" lengthAdjust="spacingAndGlyphs">(d)</text>
</svg>
</body></html>
